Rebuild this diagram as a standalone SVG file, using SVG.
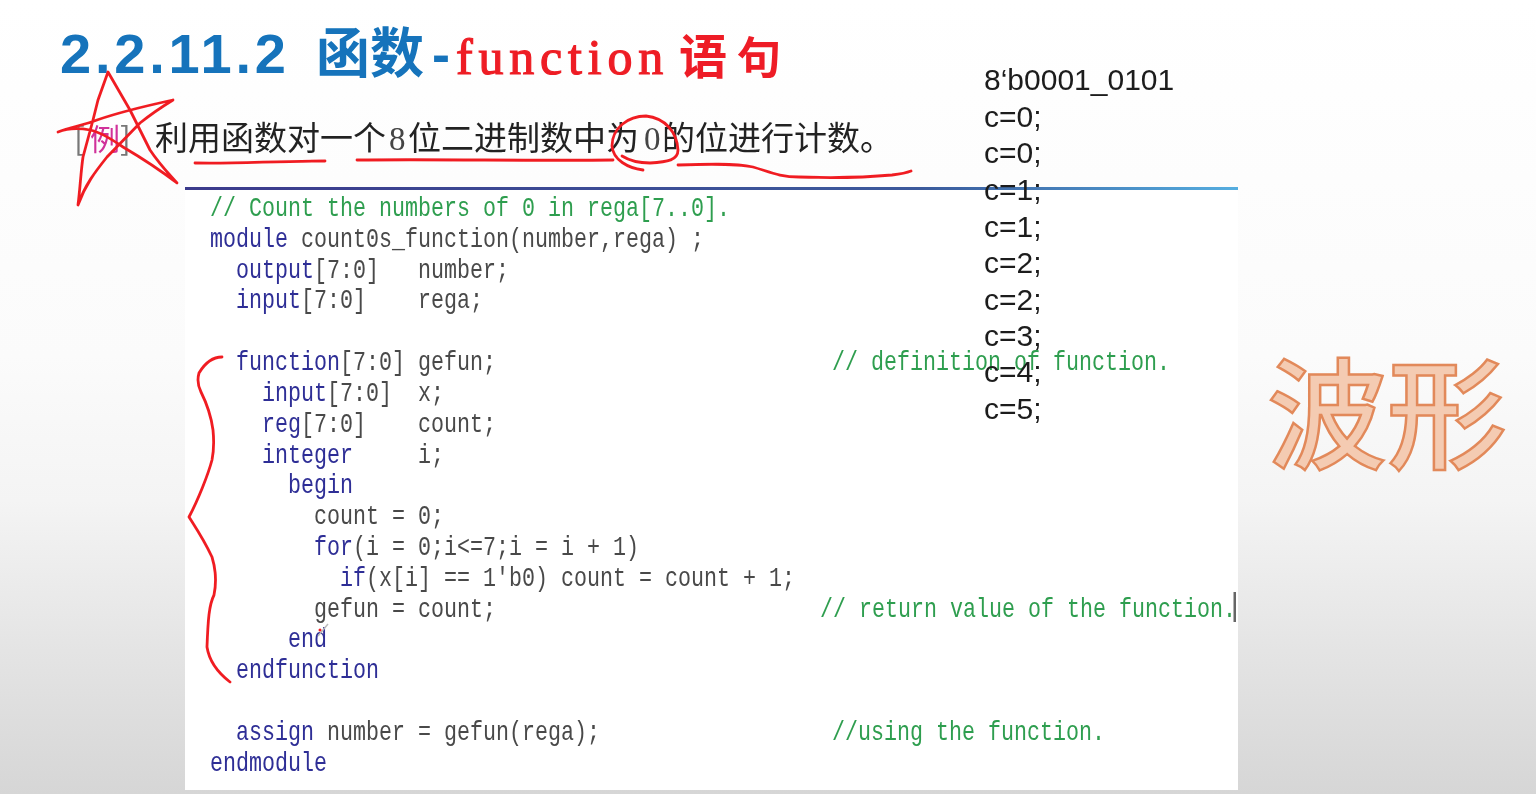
<svg xmlns="http://www.w3.org/2000/svg" width="1536" height="794" viewBox="0 0 1536 794">
<defs>
<linearGradient id="bg" gradientUnits="userSpaceOnUse" x1="0" y1="0" x2="0" y2="794"><stop offset="0" stop-color="#ffffff"/><stop offset="0.45" stop-color="#fbfbfb"/><stop offset="0.63" stop-color="#f4f4f4"/><stop offset="0.82" stop-color="#e4e4e4"/><stop offset="1" stop-color="#d6d6d6"/></linearGradient>
<linearGradient id="rule" x1="0" y1="0" x2="1" y2="0"><stop offset="0" stop-color="#3a3a8c"/><stop offset="0.7" stop-color="#3a5a9c"/><stop offset="1" stop-color="#55aee0"/></linearGradient>
<filter id="soft" x="-5%" y="-5%" width="110%" height="110%"><feGaussianBlur stdDeviation="0.45"/></filter>
</defs>
<style>
.sans{font-family:"Liberation Sans","Noto Sans CJK SC",sans-serif}
.cjk{font-family:"Noto Sans CJK SC",sans-serif}
.code{font-family:"Liberation Mono","DejaVu Sans Mono",monospace;font-size:27.78px;white-space:pre;fill:#4a4a4a}
.k{fill:#2f2f96}
.c{fill:#2f9e4f}
.ink{fill:none;stroke:#f01f24;stroke-width:2.8;stroke-linecap:round;stroke-linejoin:round}
.note{font-family:"Liberation Sans",sans-serif;font-size:30px;fill:#1c1c1c}
</style>
<rect width="1536" height="794" fill="url(#bg)"/>
<rect x="185" y="190" width="1053" height="600" fill="#ffffff"/>
<g filter="url(#soft)">
<text x="60" y="73" class="sans" font-size="56" font-weight="700" letter-spacing="3.8" fill="#1273bb">2.2.11.2</text>
<text x="316" y="73" class="cjk" font-size="54" font-weight="700" fill="#1273bb">函数</text>
<text x="432" y="73" class="sans" font-size="54" font-weight="700" fill="#1273bb">-</text>
<text x="456" y="74" font-family="Liberation Serif,serif" font-size="50" letter-spacing="5.8" fill="#ee1c25" stroke="#ee1c25" stroke-width="1.2">function</text>
<text x="679" y="74" class="cjk" font-size="48" font-weight="700" fill="#ee1c25">语</text>
<text x="737" y="74" class="cjk" font-size="44" font-weight="700" fill="#ee1c25">句</text>
<text x="74" y="150" class="cjk" font-size="32" fill="#777777">[</text>
<text x="90" y="150" class="cjk" font-size="30" fill="#d0309a">例</text>
<text x="120" y="150" class="cjk" font-size="32" fill="#777777">]</text>
<text x="155" y="150" class="cjk" font-size="33" fill="#222222">利用函数对一个</text>
<text x="389" y="150" font-family="Liberation Serif,serif" font-size="33" fill="#444444">8</text>
<text x="408" y="150" class="cjk" font-size="33" fill="#222222">位二进制数中为</text>
<text x="644" y="150" font-family="Liberation Serif,serif" font-size="33" fill="#444444">0</text>
<text x="662" y="150" class="cjk" font-size="33" fill="#222222">的位进行计数。</text>
<rect x="185" y="187" width="1053" height="3" fill="url(#rule)"/>
<g transform="scale(0.78 1)">
<text class="code" x="269.23" y="216"><tspan class="c">// Count the numbers of 0 in rega[7..0].</tspan></text>
<text class="code" x="269.23" y="247"><tspan class="k">module</tspan> count0s_function(number,rega) ;</text>
<text class="code" x="269.23" y="278">  <tspan class="k">output</tspan>[7:0]   number;</text>
<text class="code" x="269.23" y="308">  <tspan class="k">input</tspan>[7:0]    rega;</text>
<text class="code" x="269.23" y="370">  <tspan class="k">function</tspan>[7:0] gefun;</text>
<text class="code" x="269.23" y="401">    <tspan class="k">input</tspan>[7:0]  x;</text>
<text class="code" x="269.23" y="432">    <tspan class="k">reg</tspan>[7:0]    count;</text>
<text class="code" x="269.23" y="463">    <tspan class="k">integer</tspan>     i;</text>
<text class="code" x="269.23" y="493">      <tspan class="k">begin</tspan></text>
<text class="code" x="269.23" y="524">        count = 0;</text>
<text class="code" x="269.23" y="555">        <tspan class="k">for</tspan>(i = 0;i&lt;=7;i = i + 1)</text>
<text class="code" x="269.23" y="586">          <tspan class="k">if</tspan>(x[i] == 1'b0) count = count + 1;</text>
<text class="code" x="269.23" y="617">        gefun = count;</text>
<text class="code" x="269.23" y="647">      <tspan class="k">end</tspan></text>
<text class="code" x="269.23" y="678">  <tspan class="k">endfunction</tspan></text>
<text class="code" x="269.23" y="740">  <tspan class="k">assign</tspan> number = gefun(rega);</text>
<text class="code" x="269.23" y="771"><tspan class="k">endmodule</tspan></text>
<text class="code c" x="1066.67" y="370">// definition of function.</text>
<text class="code c" x="1051.28" y="617">// return value of the function.</text>
<text class="code c" x="1066.67" y="740">//using the function.</text>
</g>
<rect x="1233.5" y="592" width="2.5" height="30" fill="#666666"/>
<path d="M318 636 L328 624" stroke="#bbbbbb" stroke-width="1.5" fill="none"/>
<circle cx="320" cy="630" r="1.5" fill="#f01f24"/>
<text x="984" y="90" class="note">8‘b0001_0101</text>
<text x="984" y="127" class="note">c=0;</text>
<text x="984" y="163" class="note">c=0;</text>
<text x="984" y="200" class="note">c=1;</text>
<text x="984" y="237" class="note">c=1;</text>
<text x="984" y="273" class="note">c=2;</text>
<text x="984" y="310" class="note">c=2;</text>
<text x="984" y="346" class="note">c=3;</text>
<text x="984" y="382" class="note">c=4;</text>
<text x="984" y="419" class="note">c=5;</text>
<text x="1267" y="460" class="cjk" font-size="120" font-weight="500" fill="#f4cbb2" stroke="#e2895a" stroke-width="2.5">波形</text>
<path class="ink" d="M58 132 C70 127 85 125 97 120 C120 112 150 105 173 100 C160 108 150 115 140 123 L107 157 C95 172 85 185 78 205 C80 190 81 170 83 157 L93 120 L98 100 L108 72 L130 110 L150 150 C160 165 170 175 177 183 C160 170 140 157 123 147 C110 138 100 132 90 130 C80 128 68 128 58 132"/>
<path class="ink" d="M195 163 C235 164 275 161 325 161"/>
<path class="ink" d="M357 160 C440 159 530 161 613 160"/>
<path class="ink" d="M643 170 C628 168 613 160 612 146 C612 128 628 116 646 116 C665 118 677 132 678 150 C678 160 668 162 650 163 C640 163 630 161 622 156"/>
<path class="ink" d="M678 165 C705 164 735 163 753 167 C770 172 780 177 799 177 C830 178 870 177 892 175 C900 174 906 173 911 171"/>
<path class="ink" d="M222 357 C213 357 205 363 199 373 C197 380 198 386 201 392 C206 402 211 415 213 430 C214 440 214 450 212 460 C208 475 198 500 189 517 C194 525 203 538 212 557 C216 570 216 585 214 595 C209 605 208 620 207 647 C209 660 217 672 230 682"/>
</g>
</svg>
